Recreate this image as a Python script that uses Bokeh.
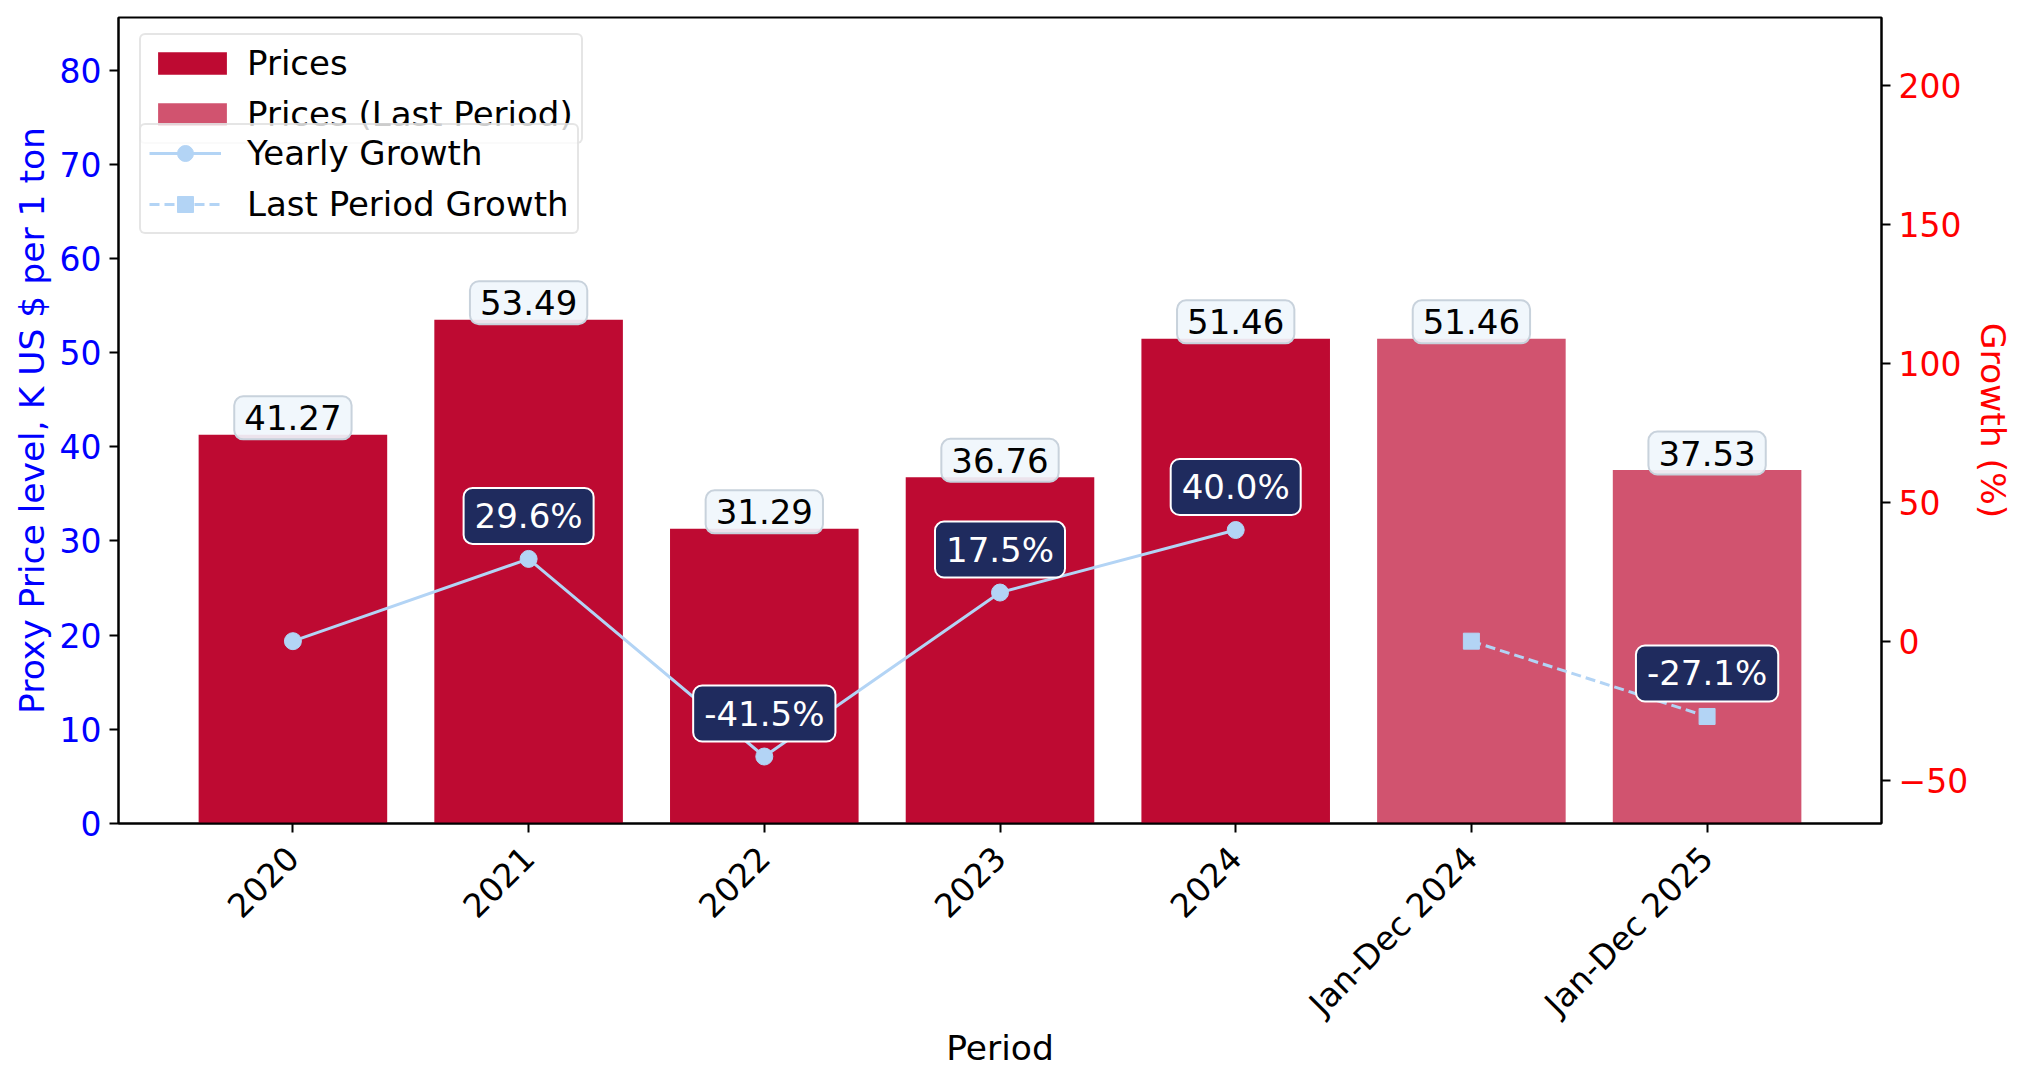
import math
from bokeh.plotting import figure
from bokeh.models import (ColumnDataSource, FactorRange, Range1d, LinearAxis,
                          Legend, LegendItem, FixedTicker)
from bokeh.core.properties import value
from bokeh.embed import file_html
from bokeh.resources import INLINE

# ---------------- data ----------------
periods = ["2020", "2021", "2022", "2023", "2024", "Jan-Dec 2024", "Jan-Dec 2025"]
yearly_periods = ["2020", "2021", "2022", "2023", "2024"]
yearly_prices = [41.27, 53.49, 31.29, 36.76, 51.46]
last_periods = ["Jan-Dec 2024", "Jan-Dec 2025"]
last_prices = [51.46, 37.53]
yearly_growth = [0.0, 29.6, -41.5, 17.5, 40.0]
last_growth = [0.0, -27.1]
left_ticks = [0, 10, 20, 30, 40, 50, 60, 70, 80]
right_ticks = [-50, 0, 50, 100, 150, 200]
left_range = (0, 85.58)
right_range = (-65.6, 224.4)

FONT = "DejaVu Sans"
FS_TICK = "33px"
FS = "34px"
FS_AX = "34.5px"
BAR = "#BE0A32"
LINE = "#B3D4F5"
NAVY = "#1F2B5E"

p = figure(x_range=FactorRange(factors=periods, range_padding=0.24,
                               range_padding_units="absolute"),
           y_range=Range1d(*left_range),
           width=2016, height=1071, output_backend="svg", toolbar_location=None,
           min_border_left=118, min_border_right=123, min_border_top=17,
           min_border_bottom=243)
p.xgrid.visible = False
p.ygrid.visible = False
p.outline_line_color = "black"
p.outline_line_width = 2
p.background_fill_color = "white"
p.border_fill_color = "white"

p.yaxis.ticker = FixedTicker(ticks=left_ticks)
p.yaxis.axis_label = "Proxy Price level, K US $ per 1 ton"
p.yaxis.axis_label_text_color = "blue"
p.yaxis.major_label_text_color = "blue"

p.extra_y_ranges = {"g": Range1d(*right_range)}
rax = LinearAxis(y_range_name="g", axis_label="Growth (%)",
                 ticker=FixedTicker(ticks=right_ticks))
rax.axis_label_text_color = "red"
rax.major_label_text_color = "red"
p.add_layout(rax, "right")

p.xaxis.axis_label = "Period"
p.xaxis.major_label_orientation = math.pi / 4
p.xaxis.major_label_text_color = "black"
p.xaxis.axis_label_text_color = "black"

for ax in p.axis:
    ax.major_label_text_font = FONT
    ax.major_label_text_font_size = FS_TICK
    ax.axis_label_text_font = FONT
    ax.axis_label_text_font_size = FS_AX
    ax.axis_label_text_font_style = "normal"
    ax.major_tick_out = 9
    ax.major_tick_in = 0
    ax.minor_tick_out = 0
    ax.minor_tick_in = 0
    ax.axis_line_width = 2
    ax.axis_line_color = "black"
    ax.major_tick_line_width = 2
    ax.major_tick_line_color = "black"
    ax.major_label_standoff = 8

p.xaxis.major_label_standoff = 20
p.xaxis.axis_label_standoff = -11
rax.axis_label_standoff = 2

# ---------------- bars ----------------
src_y = ColumnDataSource(dict(x=yearly_periods, top=yearly_prices,
                              lab=[f"{v:.2f}" for v in yearly_prices]))
src_l = ColumnDataSource(dict(x=last_periods, top=last_prices,
                              lab=[f"{v:.2f}" for v in last_prices]))
bars_y = p.vbar(x="x", top="top", width=0.8, source=src_y,
                fill_color=BAR, line_color=None)
bars_l = p.vbar(x="x", top="top", width=0.8, source=src_l,
                fill_color=BAR, fill_alpha=0.7, line_color=None)

# ---------------- growth lines ----------------
gsrc_y = ColumnDataSource(dict(x=yearly_periods, y=yearly_growth))
gsrc_l = ColumnDataSource(dict(x=last_periods, y=last_growth))
line_y = p.line(x="x", y="y", source=gsrc_y, y_range_name="g",
                line_color=LINE, line_width=3)
pts_y = p.scatter(x="x", y="y", source=gsrc_y, y_range_name="g",
                  marker="circle", size=17, fill_color=LINE, line_color=LINE)
line_l = p.line(x="x", y="y", source=gsrc_l, y_range_name="g",
                line_color=LINE, line_width=3, line_dash="10 5")
pts_l = p.scatter(x="x", y="y", source=gsrc_l, y_range_name="g",
                  marker="square", size=16, fill_color=LINE, line_color=LINE)

# ---------------- labels ----------------
for s in (src_y, src_l):
    p.text(x="x", y="top", text="lab", source=s, y_offset=-17,
           text_align="center", text_baseline="middle",
           text_font=value(FONT), text_font_size=FS, text_color="black",
           background_fill_color="#F0F6FC", background_fill_alpha=0.92,
           border_line_color="#C8D2DC", border_line_width=2,
           padding=dict(x=10, y=9), border_radius=9)

glab_x = [yearly_periods[i] for i in range(1, len(yearly_periods))] + [last_periods[1]]
glab_y = [yearly_growth[i] for i in range(1, len(yearly_growth))] + [last_growth[1]]
glab_src = ColumnDataSource(dict(x=glab_x, y=glab_y, lab=[f"{v:.1f}%" for v in glab_y]))
p.text(x="x", y="y", text="lab", source=glab_src, y_range_name="g", y_offset=-43,
       text_align="center", text_baseline="middle",
       text_font=value(FONT), text_font_size=FS, text_color="white",
       background_fill_color=NAVY, background_fill_alpha=1.0,
       border_line_color="white", border_line_width=2,
       padding=dict(x=11, y=8), border_radius=9)

# ---------------- legends ----------------
def style_legend(leg):
    leg.label_text_font = FONT
    leg.label_text_font_size = FS
    leg.label_text_color = "black"
    leg.label_height = 40
    leg.spacing = 11
    leg.padding = 8
    leg.margin = 0
    leg.border_line_color = "#CCCCCC"
    leg.border_line_width = 2
    leg.background_fill_color = "white"
    leg.background_fill_alpha = 0.8
    if "border_radius" in Legend.properties():
        leg.border_radius = 6

leg1 = Legend(items=[LegendItem(label="Prices", renderers=[bars_y]),
                     LegendItem(label="Prices (Last Period)", renderers=[bars_l])],
              location=(21, 679))
leg2 = Legend(items=[LegendItem(label="Yearly Growth", renderers=[line_y, pts_y]),
                     LegendItem(label="Last Period Growth", renderers=[line_l, pts_l])],
              location=(21, 589))
style_legend(leg1)
style_legend(leg2)
leg1.glyph_width = 86
leg1.glyph_height = 28
leg1.label_standoff = 12
leg2.glyph_width = 72
leg2.glyph_height = 40
leg2.label_standoff = 26
p.add_layout(leg1)
p.add_layout(leg2)

open("out.html", "w").write(file_html(p, INLINE))
